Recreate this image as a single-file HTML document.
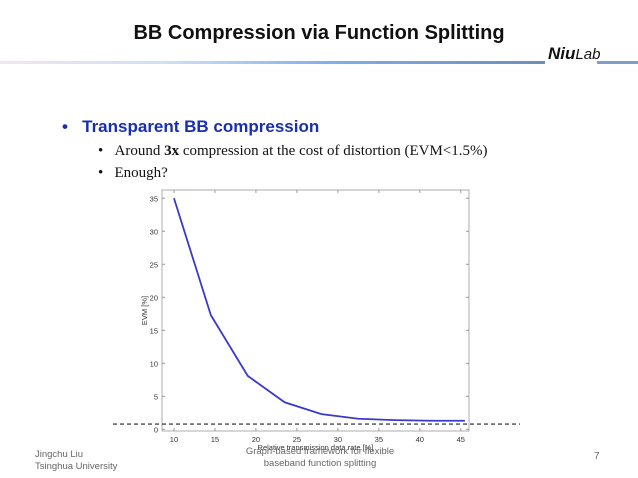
<!DOCTYPE html>
<html><head><meta charset="utf-8"><style>
body{margin:0;width:638px;height:478px;background:#fff;position:relative;overflow:hidden;font-family:"Liberation Sans",sans-serif}
.a{position:absolute;white-space:nowrap}
</style></head><body>
<div class="a" style="left:0;width:638px;top:22px;text-align:center;font-size:20px;font-weight:bold;color:#111">BB Compression via Function Splitting</div>
<div class="a" style="left:0;top:61px;width:545px;height:3px;background:linear-gradient(90deg,#f4e4f0,#cfe0f5 30%,#7fb0ea 60%,#6b8fb8)"></div>
<div class="a" style="left:597px;top:61px;width:41px;height:3px;background:#7fa0c8"></div>
<div class="a" style="left:548px;top:44px;font-size:17px;font-weight:bold;font-style:italic;color:#111">Niu<span style="font-weight:normal;font-size:15px">Lab</span></div>
<div class="a" style="left:62px;top:117px;font-size:17px;font-weight:bold;color:#1a2fb0">•&nbsp;&nbsp;&nbsp;Transparent BB compression</div>
<div class="a" style="left:98px;top:143px;font-family:'Liberation Serif',serif;font-size:15px;color:#111">•&nbsp;&nbsp;&nbsp;Around <b>3x</b> compression at the cost of distortion (EVM&lt;1.5%)</div>
<div class="a" style="left:98px;top:165px;font-family:'Liberation Serif',serif;font-size:15px;color:#111">•&nbsp;&nbsp;&nbsp;Enough?</div>
<svg class="a" style="left:0;top:0" width="638" height="478" id="chart"></svg>
<div class="a" style="left:35px;top:449px;font-size:9.5px;color:#666;line-height:12px">Jingchu Liu<br>Tsinghua University</div>
<div class="a" style="left:220px;width:200px;top:446px;text-align:center;font-size:9.5px;color:#666;line-height:12px">Graph-based framework for flexible<br>baseband function splitting</div>
<div class="a" style="left:594px;top:451px;font-size:10px;color:#666">7</div>
<script>
const xs=[10,14.5,19,23.5,28,32.5,37,41.5,45.5];
const evm=[35,17.3,8.1,4.1,2.3,1.6,1.4,1.3,1.3];
const xTicks=[10,15,20,25,30,35,40,45];
const yTicks=[0,5,10,15,20,25,30,35];
const threshold=[0.8];
const L=162,R=469,T=190,B=431,x0=8.54,x1=46,y0=-0.25,y1=36.25;
const X=v=>L+(v-x0)/(x1-x0)*(R-L), Y=v=>B-(v-y0)/(y1-y0)*(B-T);
const s=document.getElementById('chart'),NS='http://www.w3.org/2000/svg';
function mk(t,a,txt){const e=document.createElementNS(NS,t);for(const k in a)e.setAttribute(k,a[k]);if(txt!==undefined)e.textContent=txt;s.appendChild(e);return e;}
let e=mk('rect',{x:L,y:T,width:R-L,height:B-T,fill:'#fff',stroke:'#999','stroke-width':0.8});


xTicks.forEach(v=>{mk('line',{x1:X(v),x2:X(v),y1:B,y2:B-3,stroke:'#999'});mk('line',{x1:X(v),x2:X(v),y1:T,y2:T+3,stroke:'#999'});
const t=mk('text',{x:X(v),y:B+11,'font-size':7.5,'text-anchor':'middle',fill:'#333'},v);

});
yTicks.forEach(v=>{mk('line',{x1:L,x2:L+3,y1:Y(v),y2:Y(v),stroke:'#999'});mk('line',{x1:R,x2:R-3,y1:Y(v),y2:Y(v),stroke:'#999'});
const t=mk('text',{x:L-4,y:Y(v)+3,'font-size':7.5,'text-anchor':'end',fill:'#333'},v);

});
e=mk('text',{x:0,y:0,'font-size':7.5,'text-anchor':'middle',fill:'#333',transform:`translate(147,${(T+B)/2}) rotate(-90)`},'EVM [%]');


e=mk('text',{x:(L+R)/2,y:B+19,'font-size':7.5,'text-anchor':'middle',fill:'#333'},'Relative transmission data rate [%]');


e=mk('polyline',{points:xs.map((v,i)=>X(v)+','+Y(evm[i])).join(' '),fill:'none',stroke:'#3a3ac8','stroke-width':1.8});


e=mk('line',{x1:113,x2:520,y1:Y(threshold[0]),y2:Y(threshold[0]),stroke:'#222','stroke-width':1.2,'stroke-dasharray':'4,3'});


</script>
</body></html>
